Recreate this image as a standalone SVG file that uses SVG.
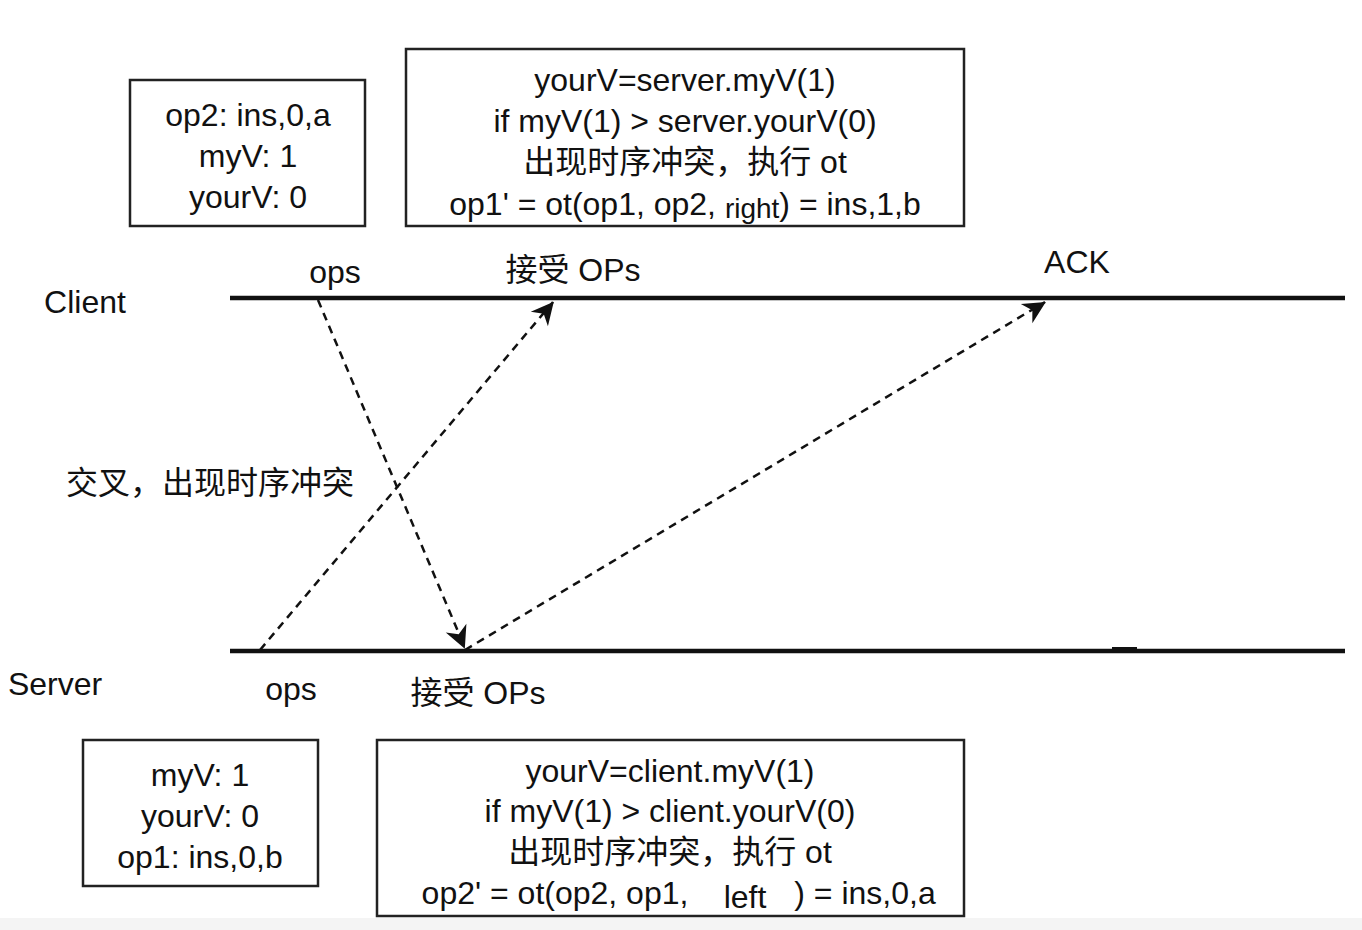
<svg xmlns="http://www.w3.org/2000/svg" width="1362" height="930" viewBox="0 0 1362 930">
<style>
text{font-family:"Liberation Sans","Noto Sans CJK SC",sans-serif;font-size:32px;fill:#111;text-anchor:middle;dominant-baseline:central}
.box{fill:#fff;stroke:#222;stroke-width:2.5}
.tl{stroke:#111;stroke-width:4.5}
.dash{stroke:#111;stroke-width:2.5;stroke-dasharray:8 6;fill:none}
</style>
<defs><marker id="ah" viewBox="0 0 10 10" refX="9" refY="5" markerWidth="8" markerHeight="8" markerUnits="userSpaceOnUse" orient="auto" style="overflow:visible"><path d="M0,0 L10,5 L0,10 L3,5 Z" fill="#111" transform="scale(2.8) translate(-6.5,-3)"/></marker></defs>
<rect width="1362" height="930" fill="#fff"/>
<rect y="918" width="1362" height="12" fill="#f4f4f4"/>
<g id="timelines">
<line class="tl" x1="230" y1="298" x2="1345" y2="298"/>
<line class="tl" x1="230" y1="651" x2="1345" y2="651"/>
<line x1="1112" y1="648" x2="1137" y2="648" stroke="#111" stroke-width="2"/>
</g>
<g id="connectors">
<line class="dash" x1="318" y1="300" x2="465" y2="648" marker-end="url(#ah)"/>
<line class="dash" x1="260" y1="650" x2="553" y2="302" marker-end="url(#ah)"/>
<line class="dash" x1="465" y1="650" x2="1045" y2="302" marker-end="url(#ah)"/>
</g>
<g id="client-state"><rect class="box" x="130" y="80" width="235" height="146"/>
<text x="248" y="115">op2: ins,0,a</text><text x="248" y="156">myV: 1</text><text x="248" y="197">yourV: 0</text></g>
<g id="client-ot"><rect class="box" x="406" y="49" width="558" height="177"/>
<text x="685" y="80">yourV=server.myV(1)</text><text x="685" y="121">if myV(1) &gt; server.yourV(0)</text><text x="685" y="162">出现时序冲突，执行 ot</text><text x="685" y="204">op1' = ot(op1, op2, <tspan font-size="28" dy="4">right</tspan><tspan dy="-4">) = ins,1,b</tspan></text></g>
<g id="server-state"><rect class="box" x="83" y="740" width="235" height="146"/>
<text x="200" y="775">myV: 1</text><text x="200" y="816">yourV: 0</text><text x="200" y="857">op1: ins,0,b</text></g>
<g id="server-ot"><rect class="box" x="377" y="740" width="587" height="176"/>
<text x="670" y="771">yourV=client.myV(1)</text><text x="670" y="811">if myV(1) &gt; client.yourV(0)</text><text x="670" y="852">出现时序冲突，执行 ot</text>
<text x="555" y="893">op2' = ot(op2, op1,</text><text x="745" y="897" font-size="28">left</text><text x="865" y="893">) = ins,0,a</text></g>
<g id="labels">
<text x="85" y="302">Client</text><text x="55" y="684">Server</text>
<text x="335" y="272">ops</text><text x="573" y="270">接受 OPs</text><text x="1077" y="262">ACK</text>
<text x="291" y="689">ops</text><text x="478" y="693">接受 OPs</text>
<text x="210" y="483">交叉，出现时序冲突</text>
</g>
</svg>
